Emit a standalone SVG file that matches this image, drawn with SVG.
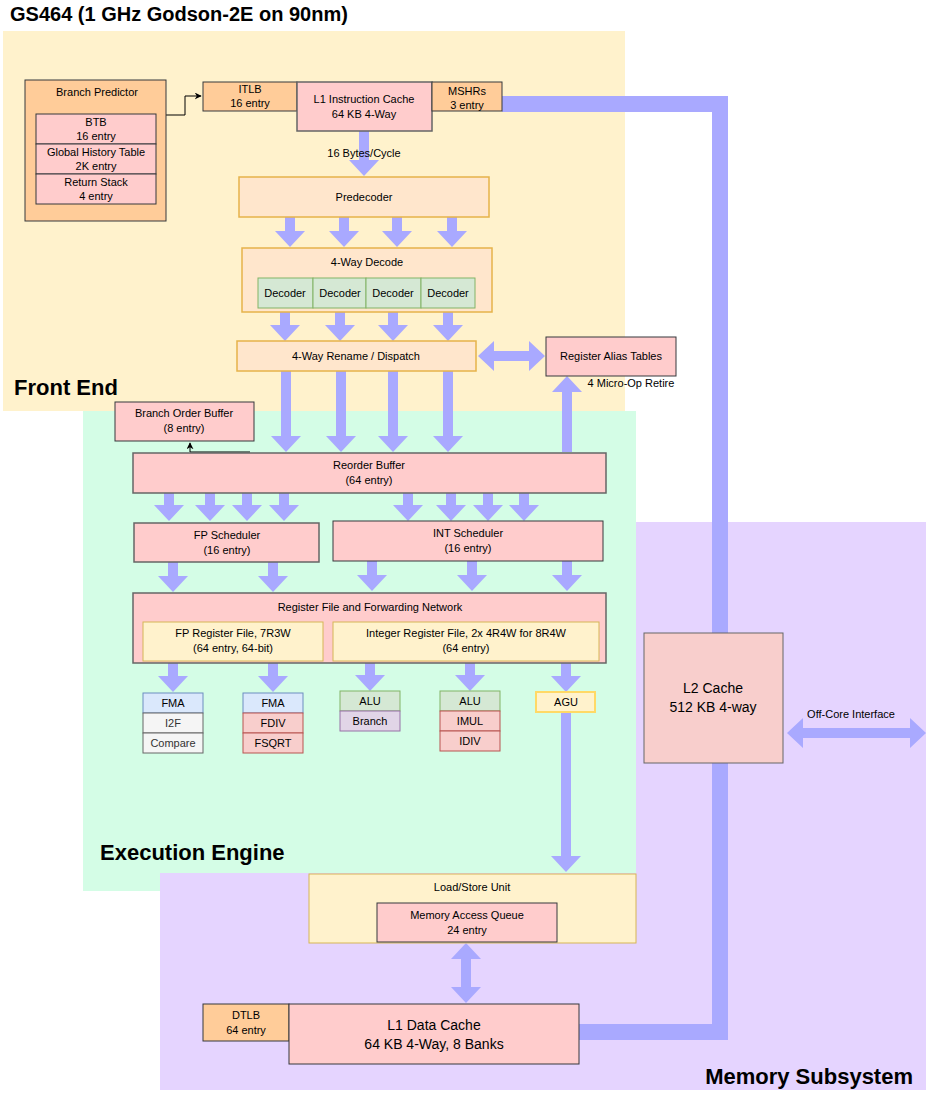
<svg xmlns="http://www.w3.org/2000/svg" width="943" height="1102" viewBox="0 0 943 1102">
<style>
text{font-family:"Liberation Sans",Arial,sans-serif;font-size:11px;fill:#000;text-anchor:middle}
.big{font-size:22px;font-weight:bold;text-anchor:start}
.orange{fill:#ffcc99;stroke:#36393d;stroke-width:1}
.pink{fill:#ffcccc;stroke:#36393d;stroke-width:1}
.pinkg{fill:#ffcccc;stroke:#666;stroke-width:1.5}
.peach{fill:#ffe6cc;stroke:#e6b34a;stroke-width:1.5}
.green{fill:#d5e8d4;stroke:#82b366;stroke-width:1}
.yel{fill:#fff2cc;stroke:#d6b656;stroke-width:1}
.fat{fill:#a9a9ff}
.thick{fill:none;stroke:#a9a9ff;stroke-width:16}
</style>
<defs><marker id="ah" viewBox="0 0 10 10" refX="9" refY="5" markerWidth="7" markerHeight="7" orient="auto"><path d="M0,0L10,5L0,10L3,5Z" fill="#000"/></marker></defs>
<g id="regions">
<rect x="3" y="31" width="622" height="380" fill="#fff2cc"/>
<rect x="83" y="411" width="553" height="480" fill="#d4fde6"/>
<rect x="636" y="522" width="290" height="568" fill="#e5d4ff"/>
<rect x="160" y="873" width="766" height="217" fill="#e5d4ff"/>
<text x="10" y="21" class="big" style="font-size:20px">GS464 (1 GHz Godson-2E on 90nm)</text>
<text x="14" y="395" class="big">Front End</text>
<text x="100" y="860" class="big">Execution Engine</text>
<text x="913" y="1084" class="big" style="text-anchor:end">Memory Subsystem</text>
</g>
<g id="connectors">
<path class="thick" d="M502,104H720V633"/>
<path class="thick" d="M579,1032H720V763"/>
<path d="M166,115H185V96H201" fill="none" stroke="#000" marker-end="url(#ah)"/>
<path d="M250,452H190V443" fill="none" stroke="#000" marker-end="url(#ah)"/>
<path class="fat" d="M359,131H369V160H379L364,176L349,160H359Z"/>
<path class="fat" d="M285,217H295V231H305L290,247L275,231H285Z M339,217H349V231H359L344,247L329,231H339Z M392,217H402V231H412L397,247L382,231H392Z M447,217H457V231H467L452,247L437,231H447Z"/>
<path class="fat" d="M280,312H290V325H300L285,341L270,325H280Z M335,312H345V325H355L340,341L325,325H335Z M388,312H398V325H408L393,341L378,325H388Z M443,312H453V325H463L448,341L433,325H443Z"/>
<path class="fat" d="M281,371H291V436H301L286,452L271,436H281Z M336,371H346V436H356L341,452L326,436H336Z M388,371H398V436H408L393,452L378,436H388Z M443,371H453V436H463L448,452L433,436H443Z"/>
<path class="fat" d="M562,452H572V392H582L567,376L552,392H562Z"/>
<path class="fat" d="M478,356L494,341V351H529V341L545,356L529,371V361H494V371Z"/>
<path class="fat" d="M164,493H174V505H184L169,521L154,505H164Z M205,493H215V505H225L210,521L195,505H205Z M242,493H252V505H262L247,521L232,505H242Z M279,493H289V505H299L284,521L269,505H279Z M403,493H413V505H423L408,521L393,505H403Z M446,493H456V505H466L451,521L436,505H446Z M483,493H493V505H503L488,521L473,505H483Z M519,493H529V505H539L524,521L509,505H519Z"/>
<path class="fat" d="M168,562H178V576H188L173,592L158,576H168Z M268,562H278V576H288L273,592L258,576H268Z M367,561H377V575H387L372,591L357,575H367Z M467,561H477V575H487L472,591L457,575H467Z M562,561H572V575H582L567,591L552,575H562Z"/>
<path class="fat" d="M168,663H178V676H188L173,692L158,676H168Z M268,663H278V676H288L273,692L258,676H268Z M365,663H375V675H385L370,691L355,675H365Z M465,663H475V675H485L470,691L455,675H465Z M561,663H571V676H581L566,692L551,676H561Z"/>
<path class="fat" d="M561,712H571V856H581L566,872L551,856H561Z"/>
<path class="fat" d="M466,943L481,959H471V987H481L466,1003L451,987H461V959H451Z"/>
<path class="fat" d="M787,733L803,718V728H910V718L926,733L910,748V738H803V748Z"/>
<text x="364" y="157">16 Bytes/Cycle</text>
<text x="631" y="387">4 Micro-Op Retire</text>
<text x="851" y="718">Off-Core Interface</text>
</g>
<g id="branch-predictor">
<rect class="orange" x="25" y="80" width="141" height="141"/>
<text x="97" y="96">Branch Predictor</text>
<rect class="pink" x="36" y="114" width="120" height="30"/><text x="96" y="126">BTB</text><text x="96" y="140">16 entry</text>
<rect class="pink" x="36" y="144" width="120" height="30"/><text x="96" y="156">Global History Table</text><text x="96" y="170">2K entry</text>
<rect class="pink" x="36" y="174" width="120" height="30"/><text x="96" y="186">Return Stack</text><text x="96" y="200">4 entry</text>
</g>
<g id="itlb"><rect class="orange" x="203" y="82" width="94" height="29"/><text x="250" y="93">ITLB</text><text x="250" y="107">16 entry</text></g>
<g id="l1i"><rect class="pinkg" x="297" y="82" width="135" height="49"/><text x="364" y="103">L1 Instruction Cache</text><text x="364" y="118">64 KB 4-Way</text></g>
<g id="mshrs"><rect class="orange" x="432" y="82" width="70" height="29"/><text x="467" y="95">MSHRs</text><text x="467" y="109">3 entry</text></g>
<g id="predecoder"><rect class="peach" x="239" y="177" width="250" height="40"/><text x="364" y="201">Predecoder</text></g>
<g id="decode"><rect class="peach" x="242" y="248" width="250" height="64"/><text x="367" y="266">4-Way Decode</text>
<rect class="green" x="258" y="278" width="55" height="30"/><text x="285" y="297">Decoder</text>
<rect class="green" x="313" y="278" width="53" height="30"/><text x="340" y="297">Decoder</text>
<rect class="green" x="366" y="278" width="55" height="30"/><text x="393" y="297">Decoder</text>
<rect class="green" x="421" y="278" width="54" height="30"/><text x="448" y="297">Decoder</text></g>
<g id="rename"><rect class="peach" x="237" y="341" width="239" height="30"/><text x="356" y="360">4-Way Rename / Dispatch</text></g>
<g id="rat"><rect class="pink" x="546" y="337" width="130" height="39"/><text x="611" y="360">Register Alias Tables</text></g>
<g id="bob"><rect class="pink" x="115" y="402" width="139" height="39"/><text x="184" y="417">Branch Order Buffer</text><text x="184" y="432">(8 entry)</text></g>
<g id="rob"><rect class="pinkg" x="133" y="453" width="473" height="40"/><text x="369" y="469">Reorder Buffer</text><text x="369" y="484">(64 entry)</text></g>
<g id="fpsched"><rect class="pinkg" x="134" y="523" width="185" height="39"/><text x="227" y="539">FP Scheduler</text><text x="227" y="554">(16 entry)</text></g>
<g id="intsched"><rect class="pink" x="333" y="521" width="270" height="40"/><text x="468" y="537">INT Scheduler</text><text x="468" y="552">(16 entry)</text></g>
<g id="regfile"><rect class="pinkg" x="133" y="593" width="473" height="70"/><text x="370" y="611">Register File and Forwarding Network</text>
<rect class="yel" x="143" y="622" width="180" height="39"/><text x="233" y="637">FP Register File, 7R3W</text><text x="233" y="652">(64 entry, 64-bit)</text>
<rect class="yel" x="333" y="622" width="266" height="39"/><text x="466" y="637">Integer Register File, 2x 4R4W for 8R4W</text><text x="466" y="652">(64 entry)</text></g>
<g id="fpu1">
<rect x="143" y="693" width="60" height="20" fill="#dae8fc" stroke="#6c8ebf"/><text x="173" y="707">FMA</text>
<rect x="143" y="713" width="60" height="20" fill="#f5f5f5" stroke="#666"/><text x="173" y="727" style="fill:#333">I2F</text>
<rect x="143" y="733" width="60" height="20" fill="#f5f5f5" stroke="#666"/><text x="173" y="747" style="fill:#333">Compare</text></g>
<g id="fpu2">
<rect x="243" y="693" width="60" height="20" fill="#dae8fc" stroke="#6c8ebf"/><text x="273" y="707">FMA</text>
<rect x="243" y="713" width="60" height="20" fill="#f8cecc" stroke="#b85450"/><text x="273" y="727">FDIV</text>
<rect x="243" y="733" width="60" height="20" fill="#f8cecc" stroke="#b85450"/><text x="273" y="747">FSQRT</text></g>
<g id="alu1">
<rect x="340" y="691" width="60" height="20" fill="#d5e8d4" stroke="#82b366"/><text x="370" y="705">ALU</text>
<rect x="340" y="711" width="60" height="20" fill="#e1d5e7" stroke="#9673a6"/><text x="370" y="725">Branch</text></g>
<g id="alu2">
<rect x="440" y="691" width="60" height="20" fill="#d5e8d4" stroke="#82b366"/><text x="470" y="705">ALU</text>
<rect x="440" y="711" width="60" height="20" fill="#f8cecc" stroke="#b85450"/><text x="470" y="725">IMUL</text>
<rect x="440" y="731" width="60" height="20" fill="#f8cecc" stroke="#b85450"/><text x="470" y="745">IDIV</text></g>
<g id="agu"><rect x="536" y="692" width="59" height="20" fill="#fff2cc" stroke="#ffd966" stroke-width="2"/><text x="566" y="706">AGU</text></g>
<g id="l2"><rect x="644" y="633" width="139" height="130" fill="#f8cecc" stroke="#666"/><text x="713" y="693" style="font-size:14px">L2 Cache</text><text x="713" y="712" style="font-size:14px">512 KB 4-way</text></g>
<g id="lsu"><rect class="yel" x="309" y="874" width="327" height="69"/><text x="472" y="891">Load/Store Unit</text>
<rect class="pink" x="377" y="903" width="180" height="39"/><text x="467" y="919">Memory Access Queue</text><text x="467" y="934">24 entry</text></g>
<g id="dtlb"><rect class="orange" x="203" y="1004" width="86" height="37"/><text x="246" y="1019">DTLB</text><text x="246" y="1034">64 entry</text></g>
<g id="l1d"><rect class="pink" x="289" y="1004" width="290" height="60"/><text x="434" y="1030" style="font-size:14px">L1 Data Cache</text><text x="434" y="1049" style="font-size:14px">64 KB 4-Way, 8 Banks</text></g>
</svg>
